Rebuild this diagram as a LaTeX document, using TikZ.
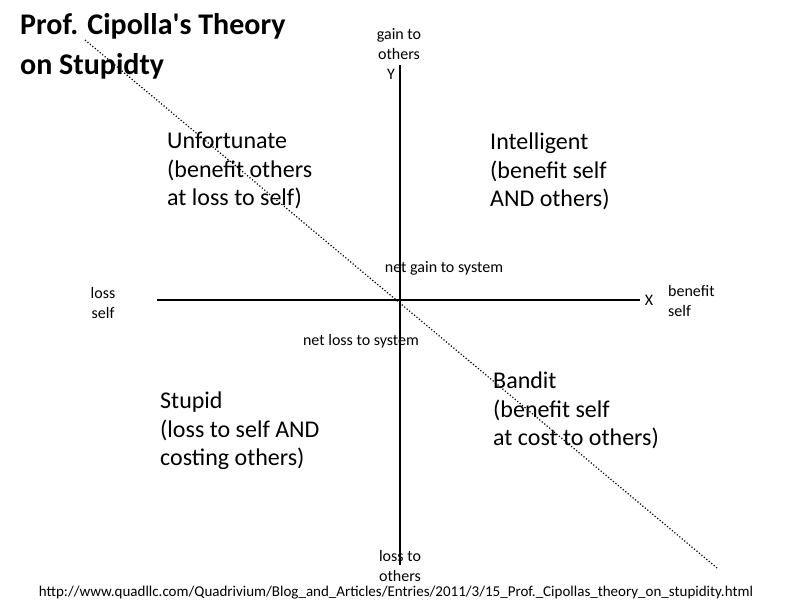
\documentclass[tikz,border=0pt]{standalone}
\usepackage{fontspec}
\setmainfont{Carlito}
\begin{document}
\begin{tikzpicture}[x=1pt,y=-1pt,
  big/.style={font=\fontsize{24}{28.5}\selectfont,align=left,anchor=north west,inner sep=0},
  small/.style={font=\fontsize{16}{19.5}\selectfont,align=center,inner sep=0},
  axis/.style={line width=1.2pt}]
\useasboundingbox (0,0) rectangle (800,600);
\coordinate (xl) at (157,300); \coordinate (xr) at (640,300);
\coordinate (yt) at (400,65); \coordinate (yb) at (400,565);
\coordinate (d1) at (85,40); \coordinate (d2) at (717,568);
\draw[axis] (xl) -- (xr);
\draw[axis] (yt) -- (yb);
\draw[dotted,line width=1.2pt] (d1) -- (d2);
\node[anchor=north west,inner sep=0,align=left,font=\fontsize{30}{40}\bfseries\selectfont] (title) at (20,13) {Prof. Cipolla\textquotesingle s Theory\\on Stupidty};
\node[small] (gain) at (399,44) {gain to\\others};
\node[small] (Y) at (391,74) {Y};
\node[small] (X) at (649,300) {X};
\node[big] (unf) at (167,132) {Unfortunate\\(benefit others\\at loss to self)};
\node[big] (int) at (490,133) {Intelligent\\(benefit self\\AND others)};
\node[small] (ng) at (444,268) {net gain to system};
\node[small] (ls) at (103,303) {loss\\self};
\node[small,align=left,anchor=west] (bs) at (668,301) {benefit\\self};
\node[small] (nl) at (361,341) {net loss to system};
\node[big] (ban) at (493,372) {Bandit\\(benefit self\\at cost to others)};
\node[big] (stu) at (160,392) {Stupid\\(loss to self AND\\costing others)};
\node[small] (lo) at (400,566) {loss to\\others};
\node[small,font=\fontsize{15}{18}\selectfont] (url) at (396,593) {http://www.quadllc.com/Quadrivium/Blog\_and\_Articles/Entries/2011/3/15\_Prof.\_Cipollas\_theory\_on\_stupidity.html};
\end{tikzpicture}
\end{document}
